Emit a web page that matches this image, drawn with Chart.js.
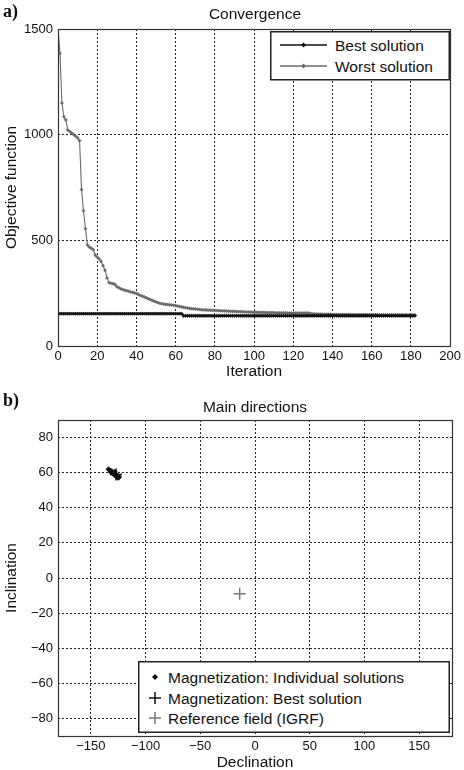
<!DOCTYPE html>
<html><head><meta charset="utf-8">
<script src="https://cdn.jsdelivr.net/npm/chart.js@4.4.1/dist/chart.umd.min.js"></script>
<style>
html,body{margin:0;padding:0;background:#fff;width:464px;height:770px;overflow:hidden;font-family:"Liberation Sans",Arial,sans-serif;}
canvas{position:absolute;left:0;}
#c1{top:0;} #c2{top:385px;}
.lbl{position:absolute;font-family:"Liberation Serif","Times New Roman",serif;font-weight:bold;font-size:18px;line-height:18px;color:#111;}
.ttl{position:absolute;left:58px;width:394px;font-size:15.5px;line-height:18px;color:#111;text-align:center;white-space:nowrap;}
svg{position:absolute;overflow:visible;}
svg text{font-family:"Liberation Sans",Arial,sans-serif;font-size:15.5px;fill:#111;}
</style></head>
<body>
<canvas id="c1" width="464" height="385"></canvas>
<canvas id="c2" width="464" height="385"></canvas>
<div class="lbl" style="left:3px;top:2px;">a)</div>
<div class="ttl" style="top:5px;">Convergence</div>
<div class="lbl" style="left:3px;top:391px;">b)</div>
<div class="ttl" style="top:398px;">Main directions</div>

<svg style="left:270px;top:31px;" width="180" height="50">
  <rect x="0.75" y="0.75" width="178.5" height="48" fill="#fff" stroke="#222" stroke-width="1.5"/>
  <line x1="10" y1="14" x2="57" y2="14" stroke="#111" stroke-width="1.3"/>
  <path d="M33.5 11.5 L36 14 L33.5 16.5 L31 14 Z" fill="#111"/>
  <text x="65" y="14" dominant-baseline="central">Best solution</text>
  <line x1="10" y1="35" x2="57" y2="35" stroke="#6a6a6a" stroke-width="1.3"/>
  <path d="M33.5 32.5 L36 35 L33.5 37.5 L31 35 Z" fill="#6a6a6a"/>
  <text x="65" y="35" dominant-baseline="central">Worst solution</text>
</svg>

<svg style="left:138px;top:661px;" width="312" height="72">
  <rect x="0.75" y="0.75" width="310.5" height="70.5" fill="#fff" stroke="#222" stroke-width="1.5"/>
  <path d="M17 13 L20 16 L17 19 L14 16 Z" fill="#111"/>
  <text x="30" y="16" dominant-baseline="central">Magnetization: Individual solutions</text>
  <line x1="11" y1="37" x2="23" y2="37" stroke="#111" stroke-width="1.5"/>
  <line x1="17" y1="31" x2="17" y2="43" stroke="#111" stroke-width="1.5"/>
  <text x="30" y="37" dominant-baseline="central">Magnetization: Best solution</text>
  <line x1="11" y1="57" x2="23" y2="57" stroke="#777" stroke-width="1.5"/>
  <line x1="17" y1="51" x2="17" y2="63" stroke="#777" stroke-width="1.5"/>
  <text x="30" y="57" dominant-baseline="central">Reference field (IGRF)</text>
</svg>

<script>
// ---------- Data: (a) Convergence ----------
const seriesNames = ['Best solution', 'Worst solution'];
// objective function of the best solution per iteration (0..182)
const bestObjective = [
 153,153,153,153,153,153,153,153,153,153,
 153,153,153,153,153,153,153,153,153,153,
 153,153,153,153,153,153,153,153,153,153,
 153,153,153,153,153,153,153,153,153,153,
 153,153,153,153,153,153,153,153,153,153,
 153,153,153,153,153,153,153,153,153,153,
 153,153,153,153,143,143,143,143,143,143,
 143,143,143,143,143,143,143,143,143,143,
 143,143,143,143,143,143,143,143,143,143,
 143,143,143,143,143,143,143,143,143,143,
 143,143,143,143,143,143,143,143,143,143,
 143,143,143,143,143,143,143,143,143,143,
 143,143,143,143,143,143,143,143,143,143,
 143,143,143,143,143,143,143,143,143,143,
 143,143,143,143,143,143,143,143,143,143,
 143,143,143,143,143,143,143,143,143,143,
 143,143,143,143,143,143,143,143,143,143,
 143,143,143,143,143,143,143,143,143,143,
 143,143,143
];
// objective function of the worst solution per iteration (0..182)
const worstObjective = [
 1500,1385,1150,1085,1070,1022,1015,1008,1000,993,
 985,972,740,640,555,478,468,462,456,430,
 420,412,400,380,358,322,300,297,295,292,
 281,276,271,267,264,262,259,256,254,251,
 249,244,239,236,232,228,224,220,216,212,
 209,205,202,200,198,197,196,195,194,193,
 191,189,187,185,183,181,180,178,177,176,
 175,174,173,172,171,171,170,170,169,169,
 168,168,167,167,166,166,165,165,164,164,
 164,163,163,163,162,162,161,161,161,160,
 160,160,159,159,159,159,158,158,158,158,
 158,157,157,157,157,157,157,156,156,156,
 156,156,156,156,156,156,156,156,156,153,
 152,152,151,151,151,150,150,150,150,150,
 149,149,149,149,149,149,149,149,149,149,
 148,148,148,148,148,148,148,148,148,148,
 148,148,148,148,147,147,147,147,147,147,
 147,147,147,147,147,147,147,147,147,147,
 147,147,147
];
const iterTicks = [0,20,40,60,80,100,120,140,160,180,200];
const objTicks = [0,500,1000,1500];

// ---------- Data: (b) Main directions ----------
const dirSeriesNames = ['Magnetization: Individual solutions','Magnetization: Best solution','Reference field (IGRF)'];
const indivDeclination = [-134,-133,-132,-132,-131,-131,-130,-130,-129,-129,-128,-128,-128,-127,-127,-126,-126,-125,-125,-124];
const indivInclination = [62,61.5,61,60.5,61,60,60.5,59.5,60,59,59.5,58.5,60.5,59,58,58.5,57.5,58,57,57.5];
const bestDeclination = [-127];
const bestInclination = [59];
const refDeclination = [-14];
const refInclination = [-9];
const declTicks = [-150,-100,-50,0,50,100,150];
const inclTicks = [-80,-60,-40,-20,0,20,40,60,80];

const FAM = '"Liberation Sans", Arial, sans-serif';
const frame = {
  id:'frame',
  afterDraw(chart){
    const {ctx, chartArea:a} = chart;
    ctx.save(); ctx.strokeStyle='#333'; ctx.lineWidth=1.2;
    ctx.strokeRect(Math.round(a.left)+0.5, Math.round(a.top)+0.5, Math.round(a.right-a.left), Math.round(a.bottom-a.top));
    ctx.restore();
  }
};
const plain = v => String(v).replace('-', '\u2212');
function axis(extra){
  return Object.assign({
    grid:{color:'#222', lineWidth:1, drawTicks:false},
    border:{display:false, dash:[2,2]},
  }, extra);
}

new Chart(document.getElementById('c1'), {
  type:'line',
  data:{datasets:[
    {label:seriesNames[0], data:bestObjective.map((v,i)=>({x:i,y:v})), borderColor:'#111', backgroundColor:'#111',
     borderWidth:1.3, pointStyle:'rectRot', pointRadius:1.7, pointBorderWidth:0.6, pointHoverRadius:0},
    {label:seriesNames[1], data:worstObjective.map((v,i)=>({x:i,y:v})), borderColor:'#6a6a6a', backgroundColor:'#6a6a6a',
     borderWidth:1.1, pointStyle:'rectRot', pointRadius:1.6, pointBorderWidth:0.6, pointHoverRadius:0}
  ]},
  options:{
    responsive:false, animation:false, devicePixelRatio:1,
    layout:{padding:{top:29,right:12,left:0,bottom:0}},
    plugins:{legend:{display:false}, tooltip:{enabled:false}},
    scales:{
      x: axis({type:'linear', min:0, max:200,
        afterBuildTicks:s=>{s.ticks=iterTicks.map(v=>({value:v}));},
        afterFit:s=>{s.height=39;},
        ticks:{color:'#111', font:{size:13,family:FAM}, padding:3, maxRotation:0, autoSkip:false, callback:plain},
        title:{display:true, text:'Iteration', color:'#111', font:{size:15.5,family:FAM}, padding:{top:0,bottom:4}}}),
      y: axis({type:'linear', min:0, max:1500,
        afterBuildTicks:s=>{s.ticks=objTicks.map(v=>({value:v}));},
        afterFit:s=>{s.width=58;},
        ticks:{color:'#111', font:{size:13,family:FAM}, padding:5, autoSkip:false, callback:plain},
        title:{display:true, text:'Objective function', color:'#111', font:{size:15.5,family:FAM}, padding:{top:2,bottom:0}}})
    }
  },
  plugins:[frame]
});

new Chart(document.getElementById('c2'), {
  type:'scatter',
  data:{datasets:[
    {label:dirSeriesNames[1], data:bestDeclination.map((d,i)=>({x:d,y:bestInclination[i]})), pointStyle:'cross',
     pointRadius:6, borderColor:'#111', pointBorderWidth:1.5, pointHoverRadius:0},
    {label:dirSeriesNames[0], data:indivDeclination.map((d,i)=>({x:d,y:indivInclination[i]})), pointStyle:'rectRot',
     pointRadius:2.5, borderColor:'#111', backgroundColor:'#111', pointBorderWidth:0.5, pointHoverRadius:0},
    {label:dirSeriesNames[2], data:refDeclination.map((d,i)=>({x:d,y:refInclination[i]})), pointStyle:'cross',
     pointRadius:6, borderColor:'#777', pointBorderWidth:1.5, pointHoverRadius:0}
  ]},
  options:{
    responsive:false, animation:false, devicePixelRatio:1,
    layout:{padding:{top:35,right:12,left:0,bottom:0}},
    plugins:{legend:{display:false}, tooltip:{enabled:false}},
    scales:{
      x: axis({type:'linear', min:-180, max:180,
        afterBuildTicks:s=>{s.ticks=declTicks.map(v=>({value:v}));},
        afterFit:s=>{s.height=34;},
        ticks:{color:'#111', font:{size:13,family:FAM}, padding:3, maxRotation:0, autoSkip:false, callback:plain},
        title:{display:true, text:'Declination', color:'#111', font:{size:15.5,family:FAM,lineHeight:0.9}, padding:{top:0,bottom:0}}}),
      y: axis({type:'linear', min:-90, max:90,
        afterBuildTicks:s=>{s.ticks=inclTicks.map(v=>({value:v}));},
        afterFit:s=>{s.width=58;},
        ticks:{color:'#111', font:{size:13,family:FAM}, padding:5, autoSkip:false, callback:plain},
        title:{display:true, text:'Inclination', color:'#111', font:{size:15.5,family:FAM}, padding:{top:2,bottom:0}}})
    }
  },
  plugins:[frame]
});
</script>
</body></html>
